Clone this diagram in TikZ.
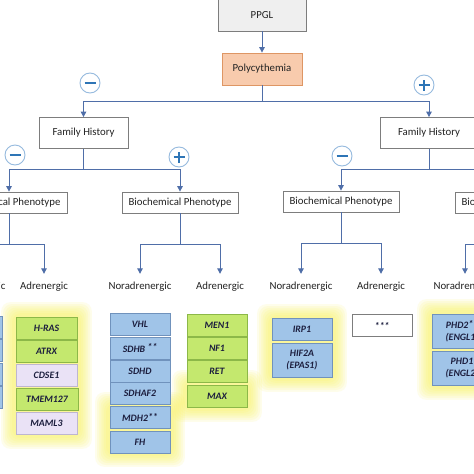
\documentclass[tikz,border=0pt]{standalone}
\usepackage{fontspec}
\setmainfont{Carlito}
\usetikzlibrary{arrows.meta}
\definecolor{linec}{RGB}{79,110,168}
\definecolor{boxgray}{RGB}{125,125,125}
\definecolor{txt}{RGB}{35,35,35}
\definecolor{ppglfill}{RGB}{239,239,239}
\definecolor{polyfill}{RGB}{248,203,173}
\definecolor{polydraw}{RGB}{222,150,100}
\definecolor{gblue}{RGB}{160,196,232}
\definecolor{gblueb}{RGB}{112,146,188}
\definecolor{ggreen}{RGB}{196,232,110}
\definecolor{ggreenb}{RGB}{140,184,72}
\definecolor{glav}{RGB}{234,226,246}
\definecolor{glavb}{RGB}{190,182,208}
\definecolor{genetxt}{RGB}{28,30,62}
\definecolor{circd}{RGB}{150,186,222}
\definecolor{symc}{RGB}{46,117,182}
\definecolor{glowc}{RGB}{250,242,80}
\newcommand\glowbox[4]{%
  \foreach \i in {0,...,6}{%
    \fill[glowc, opacity=0.11, rounded corners=9pt] (#1-\i*1.8, #2-\i*1.8) rectangle (#3+\i*1.8, #4+\i*1.8);}}
\begin{document}
\begin{tikzpicture}[x=1pt,y=-1pt,
  plainbox/.style={draw=boxgray, fill=white, line width=0.8pt, text=txt,
    font=\fontsize{10.8}{12}\selectfont, inner sep=0pt},
  gene/.style={line width=0.8pt, minimum width=60pt, minimum height=22pt, inner sep=0pt,
    font=\fontsize{9.8}{11.5}\selectfont\bfseries\itshape, text=genetxt, align=center},
  blueg/.style={gene, fill=gblue, draw=gblueb},
  greeng/.style={gene, fill=ggreen, draw=ggreenb},
  lavg/.style={gene, fill=glav, draw=glavb},
  whiteg/.style={gene, fill=white, draw=boxgray},
  sign/.style={circle, draw=circd, line width=0.9pt, minimum size=20pt, inner sep=0pt, fill=white},
  sym/.style={draw=symc, line width=2.2pt},
  lbl/.style={font=\fontsize{10.8}{12}\selectfont, text=txt, minimum height=26pt, inner sep=0pt},
  ln/.style={draw=linec, line width=1pt},
  arr/.style={draw=linec, line width=1pt, -{Triangle[width=5.5pt,length=5.5pt]}}]
\useasboundingbox (0,0) rectangle (474,474);
\clip (0,0) rectangle (474,474);
\fill[white] (0,0) rectangle (474,474);

% top boxes
\node[plainbox, fill=ppglfill, draw=boxgray, minimum width=88pt, minimum height=32pt] (ppgl) at (262,15) {PPGL};
\node[plainbox, fill=polyfill, draw=polydraw, minimum width=80pt, minimum height=32pt] (poly) at (262,69) {Polycythemia};
\node[plainbox, minimum width=89pt, minimum height=31pt] (fhL) at (83.5,133) {Family History};
\node[plainbox, minimum width=98pt, minimum height=31pt] (fhR) at (429,133) {Family History};

% biochemical phenotype
\node[plainbox, minimum width=116pt, minimum height=21pt] (bp1) at (9,202.5) {Biochemical Phenotype};
\node[plainbox, minimum width=116pt, minimum height=21pt] (bp2) at (180,202.5) {Biochemical Phenotype};
\node[plainbox, minimum width=116pt, minimum height=21pt] (bp3) at (341,201.5) {Biochemical Phenotype};
\node[plainbox, minimum width=116pt, minimum height=21pt] (bp4) at (513,202.5) {Biochemical Phenotype};

% labels
\node[lbl] (n1) at (-26,287) {Noradrenergic};
\node[lbl] (a1) at (44,287) {Adrenergic};
\node[lbl] (n2) at (140,287) {Noradrenergic};
\node[lbl] (a2) at (220,287) {Adrenergic};
\node[lbl] (n3) at (301,287) {Noradrenergic};
\node[lbl] (a3) at (381,287) {Adrenergic};
\node[lbl] (n4) at (465,287) {Noradrenergic};

% connectors
\draw[arr] (ppgl.south) -- (poly.north);
\coordinate (j0) at (262,101);
\draw[ln] (poly.south) -- (j0);
\draw[arr] (j0) -| (fhL.north);
\draw[arr] (j0) -| (fhR.north);

\coordinate (jL) at (83.5,169);
\draw[ln] (fhL.south) -- (jL);
\draw[arr] (jL) -| (bp1.north);
\draw[arr] (jL) -| (bp2.north);

\coordinate (jR) at (429,169);
\draw[ln] (fhR.south) -- (jR);
\draw[arr] (jR) -| (bp3.north);
\draw[arr] (jR) -| (bp4.north);

\foreach \b/\n/\a in {bp1/n1/a1, bp2/n2/a2, bp3/n3/a3}{
  \coordinate (j\b) at ([yshift=-31pt]\b.south);
  \draw[ln] (\b.south) -- (j\b);
  \draw[arr] (j\b) -| (\n.north);
  \draw[arr] (j\b) -| (\a.north);
}
\coordinate (jbp4) at ([yshift=-31pt]bp4.south);
\coordinate (a4top) at (559,274);
\draw[ln] (bp4.south) -- (jbp4);
\draw[arr] (jbp4) -| (n4.north);
\draw[arr] (jbp4) -| (a4top);

% signs
\node[sign] (s1) at (90,83) {};
\node[sign] (s2) at (424,85) {};
\node[sign] (s3) at (15,155) {};
\node[sign] (s4) at (179,157) {};
\node[sign] (s5) at (342,156) {};
\foreach \s in {s1,s3,s5}{\draw[sym] ([xshift=-5.5pt]\s.center) -- ([xshift=5.5pt]\s.center);}
\foreach \s in {s2,s4}{
  \draw[sym] ([xshift=-5.5pt]\s.center) -- ([xshift=5.5pt]\s.center);
  \draw[sym] ([yshift=-5.5pt]\s.center) -- ([yshift=5.5pt]\s.center);}

% glows
\glowbox{12}{313}{81}{438}
\glowbox{106}{403}{174}{456}
\glowbox{183}{381}{251}{411}
\glowbox{268}{315}{336}{381}
\glowbox{428}{310}{496}{389}

% gene column A (partial)
\node[blueg] (ga1) at (-28,327.5) {};
\node[blueg] (ga2) at (-28,350.5) {};
\node[blueg] (ga3) at (-28,374) {};
\node[blueg] (ga4) at (-28,397.5) {};

% column B
\node[greeng, minimum width=61pt] (gb1) at (46.5,328) {H-RAS};
\node[greeng, minimum width=61pt] (gb2) at (46.5,351.5) {ATRX};
\node[lavg, minimum width=61pt] (gb3) at (46.5,375) {CDSE1};
\node[greeng, minimum width=62pt] (gb4) at (47,399) {TMEM127};
\node[lavg, minimum width=61pt] (gb5) at (46.5,423.5) {MAML3};

% column C
\node[blueg] (gc1) at (140,324.5) {VHL};
\node[blueg] (gc2) at (140,348) {SDHB \raisebox{2.5pt}{**}};
\node[blueg] (gc3) at (140,371.5) {SDHD};
\node[blueg] (gc4) at (140,393.5) {SDHAF2};
\node[blueg] (gc5) at (140,417.5) {MDH2\raisebox{1.5pt}{**}};
\node[blueg] (gc6) at (140,442) {FH};

% column D
\node[greeng] (gd1) at (217,325.5) {MEN1};
\node[greeng] (gd2) at (217,348) {NF1};
\node[greeng] (gd3) at (217,371.5) {RET};
\node[greeng] (gd4) at (217,396.5) {MAX};

% column E
\node[blueg] (ge1) at (302,329.5) {IRP1};
\node[blueg, minimum height=34pt] (ge2) at (302,360) {HIF2A\\(EPAS1)};
\node[whiteg] (gx) at (382,325.5) {***};

% column F
\node[blueg, minimum height=34pt] (gf1) at (462,331) {PHD2\raisebox{1.5pt}{**}\\(ENGL1)};
\node[blueg, minimum height=34pt] (gf2) at (462,368) {PHD1\\(ENGL2)};
\end{tikzpicture}
\end{document}
